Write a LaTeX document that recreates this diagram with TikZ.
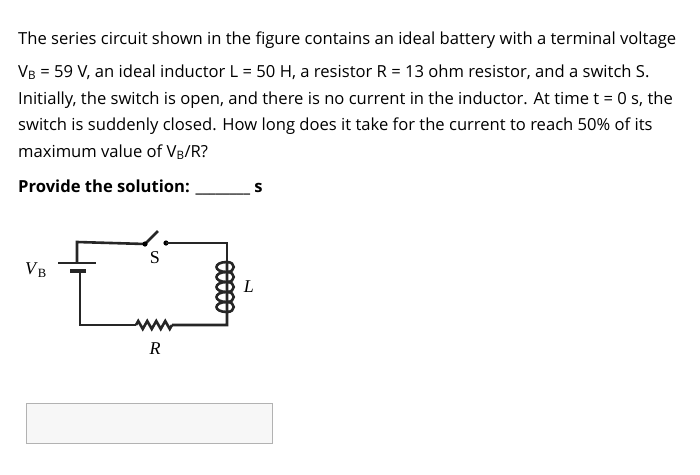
\documentclass[tikz,border=0pt]{standalone}
\usepackage{fontspec}
\setmainfont{Open Sans}
\newfontfamily\serifc{Liberation Serif}
\usetikzlibrary{decorations.pathmorphing}
\begin{document}
\begin{tikzpicture}[x=1pt,y=-1pt,
  txt/.style={anchor=west,inner sep=0pt,font=\fontsize{16.6}{18}\selectfont},
  wire/.style={line width=2.6pt,black!85},
  lab/.style={inner sep=0pt,font=\serifc\fontsize{18}{20}\selectfont}]
\useasboundingbox[fill=white] (0,0) rectangle (700,474);
\node[txt] (l1) at (18,40) {The series circuit shown in the figure contains an ideal battery with a terminal voltage};
\node[txt] (l2) at (18,72) {V\textsubscript{B} = 59 V, an ideal inductor L = 50 H, a resistor R = 13 ohm resistor, and a switch S.};
\node[txt] (l3) at (18,100) {Initially, the switch is open, and there is no current in the inductor. At time t = 0 s, the};
\node[txt] (l4) at (18,126) {switch is suddenly closed. How long does it take for the current to reach 50\% of its};
\node[txt] (l5) at (18,152) {maximum value of V\textsubscript{B}/R?};
\node[txt,font=\bfseries\fontsize{16.6}{18}\selectfont] (l6) at (18,188) {Provide the solution: \_\_\_\_\_\_\_\_ s};
% circuit
\coordinate (tl) at (77,242); \coordinate (sw1) at (145,244); \coordinate (sw2) at (166,243);
\coordinate (tr) at (227,243); \coordinate (br) at (227,325); \coordinate (bl) at (80,325);
\coordinate (bt) at (80,272); \coordinate (ri) at (172,325); \coordinate (le) at (136,325);
\coordinate (it) at (227,262); \coordinate (ib) at (227,312);
\draw[wire] (77,263) -- (tl) -- (sw1);
\draw[wire] (sw1) -- (158,231);
\fill (sw1) circle (2.6pt); \fill (sw2) circle (2.6pt);
\draw[wire] (sw2) -- (tr) -- (it);
\draw[wire] (it)
  \foreach \k in {0,...,4} { .. controls (213,{262+10*\k}) and (213,{272+10*\k}) .. (227,{272+10*\k}) .. controls (236,{272+10*\k}) and (236,{262+10*\k}) .. (227,{262+10*\k}) -- (227,{272+10*\k}) }
  -- (ib) -- (br) -- (ri);
\draw[wire,decorate,decoration={zigzag,segment length=9pt,amplitude=4pt}] (ri) -- (le);
\draw[wire] (le) -- (bl) -- (bt);
\draw[wire] (58,263) -- (96,263);
\draw[wire,line width=3.2pt] (70,271) -- (86,271);
\node[lab] (S) at (155,258) {S};
\node[lab,font=\serifc\itshape\fontsize{18}{20}\selectfont] (L) at (249,287) {L};
\node[lab,font=\serifc\itshape\fontsize{18}{20}\selectfont] (R) at (155,349) {R};
\node[lab] (VB) at (36,270) {\textit{V}\textsubscript{B}};
\node[draw=gray!60,fill=gray!6,minimum width=246pt,minimum height=40pt,anchor=north west,inner sep=0pt] (box) at (26,403) {};
\end{tikzpicture}
\end{document}
